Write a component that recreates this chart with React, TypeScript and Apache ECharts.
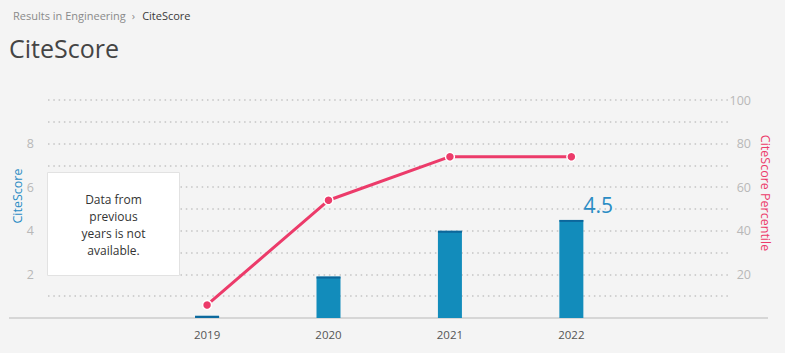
import React, { useEffect, useRef } from "react";
import * as echarts from "echarts";

const years = [2019, 2020, 2021, 2022];
const citeScore = [0.1, 1.9, 4.0, 4.5];
const percentile = [6, 54, 74, 74];
const labelledYear = 2022;
const breadcrumb = ["Results in Engineering", "›", "CiteScore"];
const pageTitle = "CiteScore";
const leftAxisName = "CiteScore";
const rightAxisName = "CiteScore Percentile";
const noteLines = ["Data from", "previous", "years is not", "available."];

const FONT = "'Open Sans', 'Noto Sans', sans-serif";

export default function App() {
  const ref = useRef<HTMLDivElement>(null);
  useEffect(() => {
    document.body.style.margin = "0";
    if (!ref.current) return;
    const chart = echarts.init(ref.current, null, { renderer: "svg" });
    const barData = years.map((y, i) =>
      y === labelledYear
        ? {
            value: [y, citeScore[i]],
            label: {
              show: true,
              position: "top",
              offset: [27, 1],
              formatter: (p: any) => p.value[1].toFixed(1),
              color: "#2a8cc4",
              fontSize: 21,
              fontFamily: FONT,
            },
          }
        : { value: [y, citeScore[i]] }
    );
    chart.setOption({
      animation: false,
      backgroundColor: "#f4f4f4",
      textStyle: { fontFamily: FONT },
      title: [
        {
          left: 8,
          top: 5,
          text: `{a|${breadcrumb[0]}}{b|${breadcrumb[1]}}{c|${breadcrumb[2]}}`,
          textStyle: {
            fontWeight: "normal",
            rich: {
              a: { color: "#8a8a8a", fontSize: 11, fontWeight: "normal", fontFamily: FONT },
              b: { color: "#8a8a8a", fontSize: 11, fontWeight: "normal", fontFamily: FONT, padding: [0, 7, 0, 6] },
              c: { color: "#3a3a3a", fontSize: 11, fontWeight: "normal", fontFamily: FONT },
            },
          },
        },
        {
          left: 4,
          top: 30,
          text: pageTitle,
          textStyle: { color: "#444", fontSize: 25, fontWeight: "normal", fontFamily: FONT },
        },
      ],
      grid: { left: 48, right: 57, top: 100, bottom: 35 },
      xAxis: {
        type: "value",
        min: 2017.69,
        max: 2023.29,
        axisLine: { show: false },
        axisTick: { show: false },
        splitLine: { show: false },
        axisLabel: {
          customValues: years,
          formatter: (v: number) => String(v),
          color: "#555",
          fontSize: 11.5,
          margin: 10,
          fontFamily: FONT,
        },
      },
      yAxis: [
        {
          type: "value",
          min: 0,
          max: 10,
          interval: 1,
          axisLine: { show: false },
          axisTick: { show: false },
          axisLabel: {
            color: "#b8b8b8",
            fontSize: 12.5,
            margin: 14,
            fontFamily: FONT,
            formatter: (v: number) => (v % 2 === 0 && v !== 0 && v !== 10 ? String(v) : ""),
          },
          splitLine: { lineStyle: { color: "#c4c4c4", width: 1.5, type: [1.5, 3.8] } },
        },
        {
          type: "value",
          min: 0,
          max: 100,
          interval: 10,
          position: "right",
          axisLine: { show: false },
          axisTick: { show: false },
          splitLine: { show: false },
          axisLabel: {
            color: "#b8b8b8",
            fontSize: 12.5,
            margin: 23,
            align: "right",
            fontFamily: FONT,
            formatter: (v: number) => (v % 20 === 0 && v !== 0 ? String(v) : ""),
          },
        },
      ],
      series: [
        {
          type: "bar",
          data: barData,
          barWidth: 24,
          itemStyle: { color: "#128cbb" },
          z: 2,
        },
        {
          type: "scatter",
          data: years.map((y, i) => [y, citeScore[i]]),
          symbol: "rect",
          symbolSize: [24, 2],
          symbolOffset: [0, 1],
          itemStyle: { color: "#0b5e93" },
          silent: true,
          z: 3,
        },
        {
          type: "line",
          yAxisIndex: 1,
          data: years.map((y, i) => [y, percentile[i]]),
          lineStyle: { color: "#ec3b6a", width: 3 },
          itemStyle: { color: "#ec3b6a", borderColor: "#ffffff", borderWidth: 1.5 },
          symbol: "circle",
          symbolSize: 9,
          showAllSymbol: true,
          z: 5,
        },
      ],
      graphic: [
        {
          type: "line",
          z: 1,
          shape: { x1: 9, y1: 318, x2: 768, y2: 318 },
          style: { stroke: "#d6d6d6", lineWidth: 2 },
        },
        {
          type: "rect",
          z: 10,
          shape: { x: 47.5, y: 172.5, width: 132, height: 103 },
          style: { fill: "#ffffff", stroke: "#e2e2e2", lineWidth: 1 },
        },
        {
          type: "text",
          z: 11,
          x: 113.5,
          y: 224.5,
          style: {
            text: noteLines.join("\n"),
            fill: "#333",
            fontSize: 12,
            lineHeight: 17,
            fontFamily: FONT,
            textAlign: "center",
            textVerticalAlign: "middle",
          },
        },
        {
          type: "text",
          z: 11,
          x: 17,
          y: 196,
          rotation: Math.PI / 2,
          style: {
            text: leftAxisName,
            fill: "#2a8cc4",
            fontSize: 12.5,
            fontFamily: FONT,
            textAlign: "center",
            textVerticalAlign: "middle",
          },
        },
        {
          type: "text",
          z: 11,
          x: 765,
          y: 193,
          rotation: -Math.PI / 2,
          style: {
            text: rightAxisName,
            fill: "#ec3b6a",
            fontSize: 12.5,
            fontFamily: FONT,
            textAlign: "center",
            textVerticalAlign: "middle",
          },
        },
      ],
    });
    return () => chart.dispose();
  }, []);
  return <div ref={ref} style={{ width: 785, height: 353 }} />;
}
